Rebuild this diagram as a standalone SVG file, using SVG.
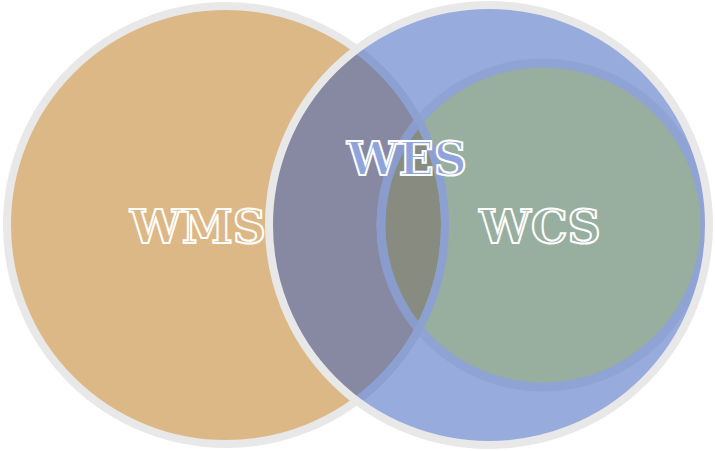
<svg xmlns="http://www.w3.org/2000/svg" width="715" height="451" viewBox="0 0 715 451">
<style>
.lbl{font-family:"DejaVu Serif","Liberation Serif",serif;font-weight:bold;font-size:46px;text-anchor:middle;stroke:#ffffff;stroke-width:2;}
</style>
<defs>
<clipPath id="wmsIn"><circle cx="226" cy="225" r="215"/></clipPath>
<clipPath id="wesIn"><circle cx="489" cy="225" r="220"/></clipPath>
</defs>
<rect width="715" height="451" fill="#ffffff"/>
<g id="WMS">
<circle cx="226" cy="225" r="219" fill="#DDB887" stroke="#E8E8E8" stroke-width="8"/>
</g>
<g id="WES">
<circle cx="489" cy="225" r="220" fill="#3157BB" fill-opacity="0.5"/>
</g>
<g id="WCS">
<circle cx="543" cy="225" r="162" fill="#98AE9E" stroke="#8FA3D4" stroke-width="9"/>
<circle cx="543" cy="225" r="162" fill="#888C80" clip-path="url(#wmsIn)"/>
<circle cx="543" cy="225" r="162" fill="none" stroke="#8A9CCB" stroke-width="9" clip-path="url(#wmsIn)"/>
</g>
<g id="rings">
<circle cx="226" cy="225" r="219" fill="none" stroke="#8CA0D2" stroke-width="8" clip-path="url(#wesIn)"/>
<circle cx="489" cy="225" r="220" fill="none" stroke="#E8E8E8" stroke-width="8"/>
</g>
<g id="labels">
<text class="lbl" x="198" y="243" fill="#DDB887">WMS</text>
<text class="lbl" x="407" y="175" fill="#8FA3DD">WES</text>
<text class="lbl" x="540" y="243" fill="#98AE9E">WCS</text>
</g>
</svg>
